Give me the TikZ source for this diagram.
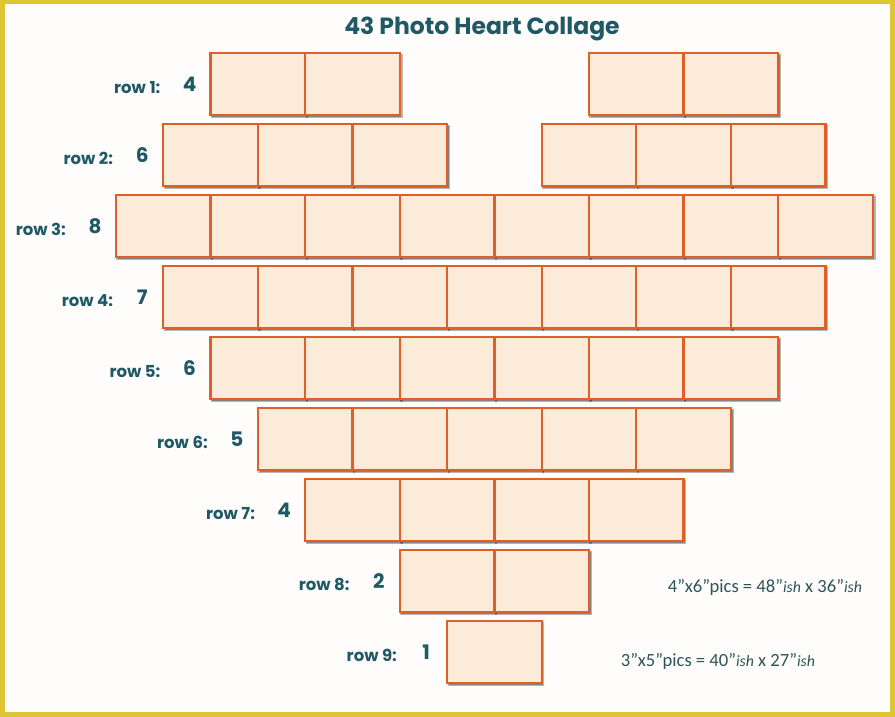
\documentclass[tikz,border=0pt]{standalone}
\usepackage{fontspec}
\setmainfont{Poppins}
\newfontfamily\notefont{Carlito}
\usetikzlibrary{shadows}
\definecolor{frame}{HTML}{DDC534}
\definecolor{paper}{HTML}{FFFDFB}
\definecolor{boxfill}{HTML}{FDEBDA}
\definecolor{boxline}{HTML}{DE5F28}
\definecolor{ink}{HTML}{1F5965}
\definecolor{note}{HTML}{2E535B}
\begin{document}
\begin{tikzpicture}[x=1pt,y=-1pt,
  photo/.style={draw=boxline, fill=boxfill, line width=2.3pt, minimum width=94.6pt, minimum height=62pt, anchor=north west, inner sep=0pt, outer sep=0pt,
    preaction={fill=black, opacity=0.28, draw=black, draw opacity=0.28, transform canvas={shift={(1.6pt,-2pt)}}}},
  rowlabel/.style={text=ink, font=\fontsize{16.5}{18}\selectfont\bfseries, anchor=east, inner sep=0pt},
  count/.style={text=ink, font=\fontsize{20}{22}\selectfont\bfseries, inner sep=0pt},
  titletext/.style={text=ink, font=\fontsize{23.5}{27}\selectfont\bfseries, inner sep=0pt},
  notetext/.style={text=note, font=\notefont\fontsize{18.6}{21}\selectfont, inner sep=0pt}]
\fill[frame] (0,0) rectangle (895,717);
\fill[paper] (5,4) rectangle (890,712);
\useasboundingbox (0,0) rectangle (895,717);
\node[titletext] (title) at (482,29) {43 Photo Heart Collage};
\foreach \r/\k/\n/\num in {1/2/2/4, 2/1/3/6, 3/0/8/8, 4/1/7/7, 5/2/6/6, 6/3/5/5, 7/4/4/4, 8/6/2/2, 9/7/1/1} {
  \pgfmathsetmacro\ty{53+(\r-1)*71}
  \pgfmathsetmacro\lx{116+\k*47.3}
  \foreach \i in {1,...,\n} { \node[photo] (b\r-\i) at ({\lx+(\i-1)*94.6},\ty) {}; }
  \node[count] (c\r) at ({\lx-21},{\ty+31}) {\num};
  \node[rowlabel] (l\r) at ({\lx-50},{\ty+34.5}) {row \r:};
}
\foreach \r/\k/\n in {1/10/2, 2/9/3} {
  \pgfmathsetmacro\ty{53+(\r-1)*71}
  \pgfmathsetmacro\lx{116+\k*47.3}
  \foreach \i in {1,...,\n} { \node[photo] (rb\r-\i) at ({\lx+(\i-1)*94.6},\ty) {}; }
}
\node[notetext] (n1) at (765,587) {4”x6”pics = 48”{\itshape\fontsize{15.8}{18}\selectfont ish} x 36”{\itshape\fontsize{15.8}{18}\selectfont ish}};
\node[notetext] (n2) at (718,661) {3”x5”pics = 40”{\itshape\fontsize{15.8}{18}\selectfont ish} x 27”{\itshape\fontsize{15.8}{18}\selectfont ish}};
\end{tikzpicture}
\end{document}
